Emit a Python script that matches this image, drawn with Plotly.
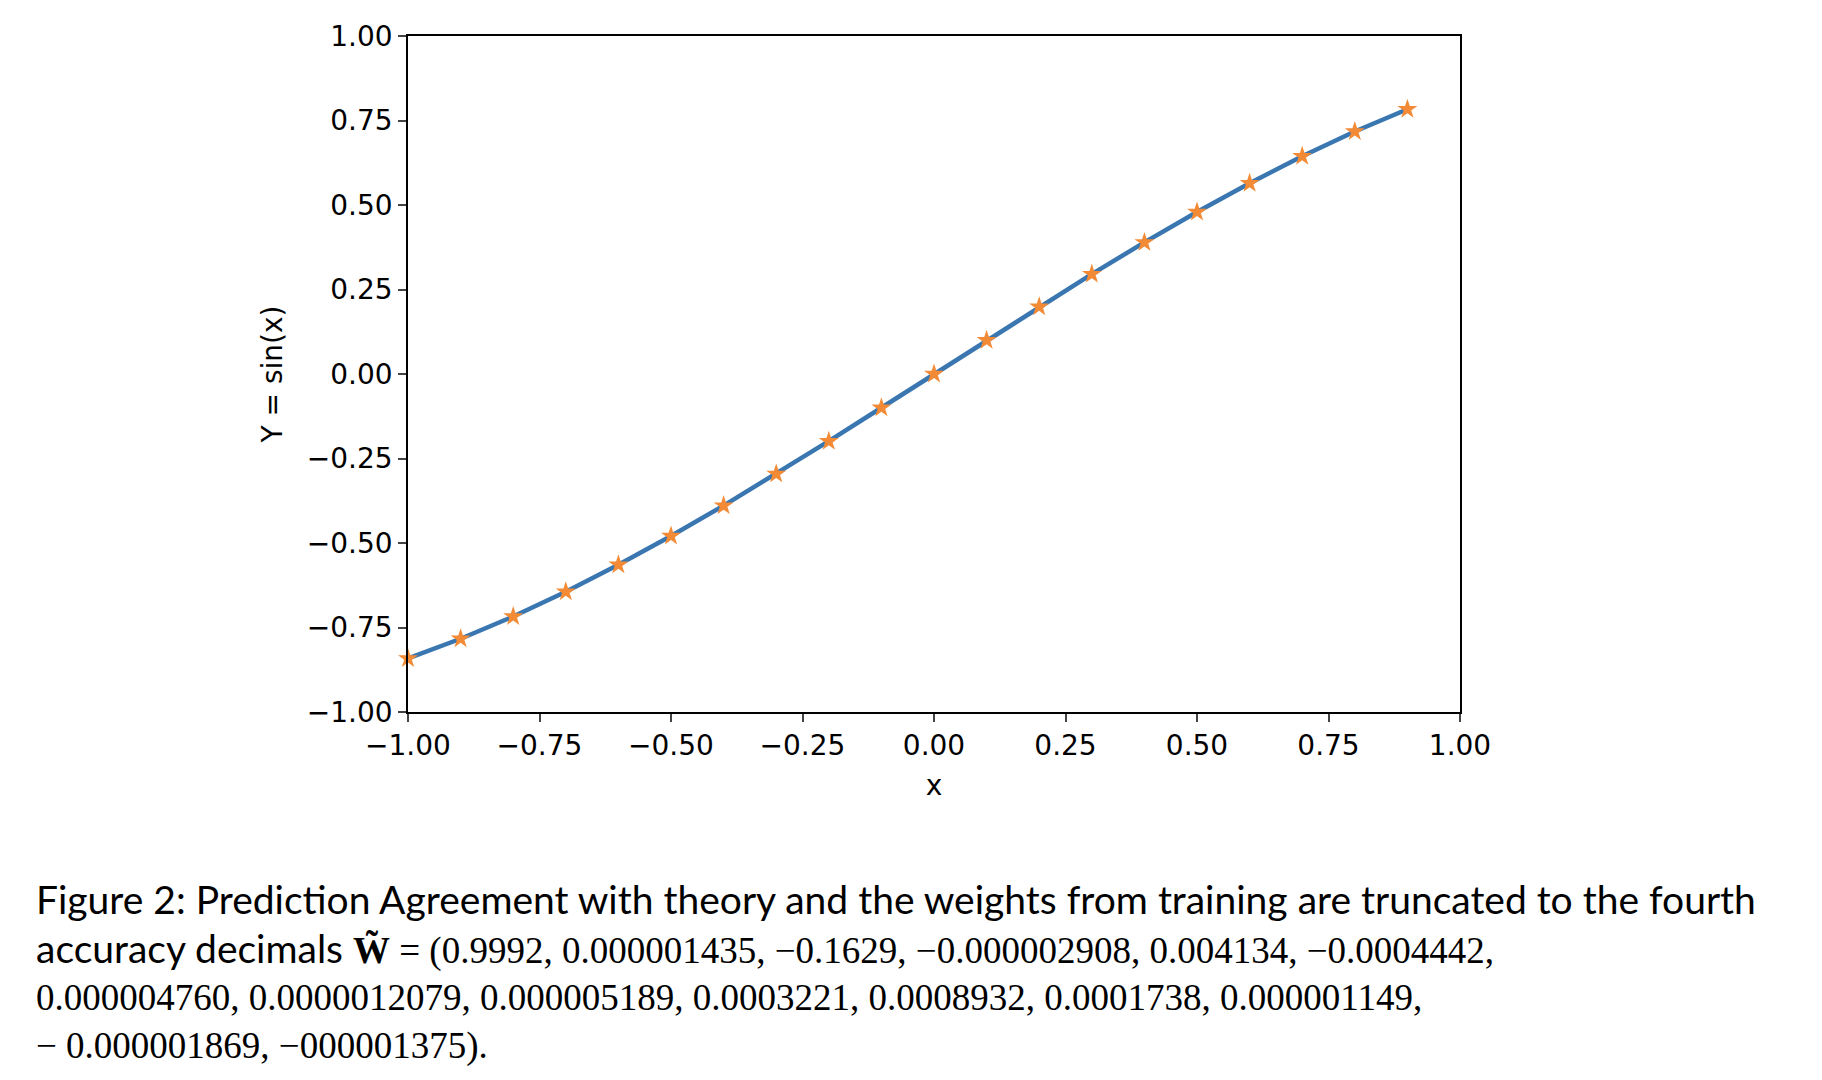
import plotly.graph_objects as go

x_vals = [-1.0, -0.9, -0.8, -0.7, -0.6, -0.5, -0.4, -0.3, -0.2, -0.1,
          0.0, 0.1, 0.2, 0.3, 0.4, 0.5, 0.6, 0.7, 0.8, 0.9]
y_theory = [-0.8415, -0.7833, -0.7174, -0.6442, -0.5646, -0.4794, -0.3894, -0.2955, -0.1987, -0.0998,
            0.0, 0.0998, 0.1987, 0.2955, 0.3894, 0.4794, 0.5646, 0.6442, 0.7174, 0.7833]
y_pred = list(y_theory)
tick_vals = [-1.0, -0.75, -0.5, -0.25, 0.0, 0.25, 0.5, 0.75, 1.0]
tick_text = ["−1.00", "−0.75", "−0.50", "−0.25", "0.00", "0.25", "0.50", "0.75", "1.00"]

fig = go.Figure()
fig.add_trace(go.Scatter(x=x_vals, y=y_theory, mode="lines",
                         line=dict(color="#3a76b0", width=4.5), showlegend=False))
fig.add_trace(go.Scatter(x=x_vals, y=y_pred, mode="markers",
                         marker=dict(symbol="star", color="#f28a36", size=15,
                                     line=dict(width=0)), showlegend=False, cliponaxis=False))

ax = dict(range=[-1, 1], tickvals=tick_vals, ticktext=tick_text, ticks="outside",
          ticklen=8, tickwidth=1.5, showline=True, linecolor="black", linewidth=1.5,
          mirror=True, showgrid=False, zeroline=False,
          tickfont=dict(family="DejaVu Sans", size=28, color="black"))
fig.update_xaxes(**ax, title=dict(text="x", font=dict(family="DejaVu Sans", size=28, color="black"), standoff=14))
fig.update_yaxes(**ax, title=dict(text="Y = sin(x)", font=dict(family="DejaVu Sans", size=28, color="black"), standoff=16))

W, H = 1822, 1080
L, R, T, B = 400, 1452, 19, 704
pw, ph = R - L, B - T
sp = "<span style=\"font-family:'Liberation Serif';font-size:37px\">"
lines = [
    "Figure 2: Prediction Agreement with theory and the weights from training are truncated to the fourth",
    "accuracy decimals " + sp + "<b>W̃</b> = (0.9992, 0.000001435, −0.1629, −0.000002908, 0.004134, −0.0004442,</span>",
    sp + "0.000004760, 0.0000012079, 0.000005189, 0.0003221, 0.0008932, 0.0001738, 0.000001149,</span>",
    sp + "− 0.000001869, −000001375).</span>",
]
ycent = [893, 944, 993, 1042]
for txt, yc in zip(lines, ycent):
    fig.add_annotation(text=txt, xref="paper", yref="paper",
                       x=(26 - L) / pw, y=(B - yc) / ph, xanchor="left", yanchor="middle",
                       showarrow=False, font=dict(family="Lato", size=39, color="black"))

fig.update_layout(width=W, height=H, margin=dict(l=L, r=W - R, t=T, b=H - B),
                  plot_bgcolor="white", paper_bgcolor="white")
fig.write_html("out.html")
